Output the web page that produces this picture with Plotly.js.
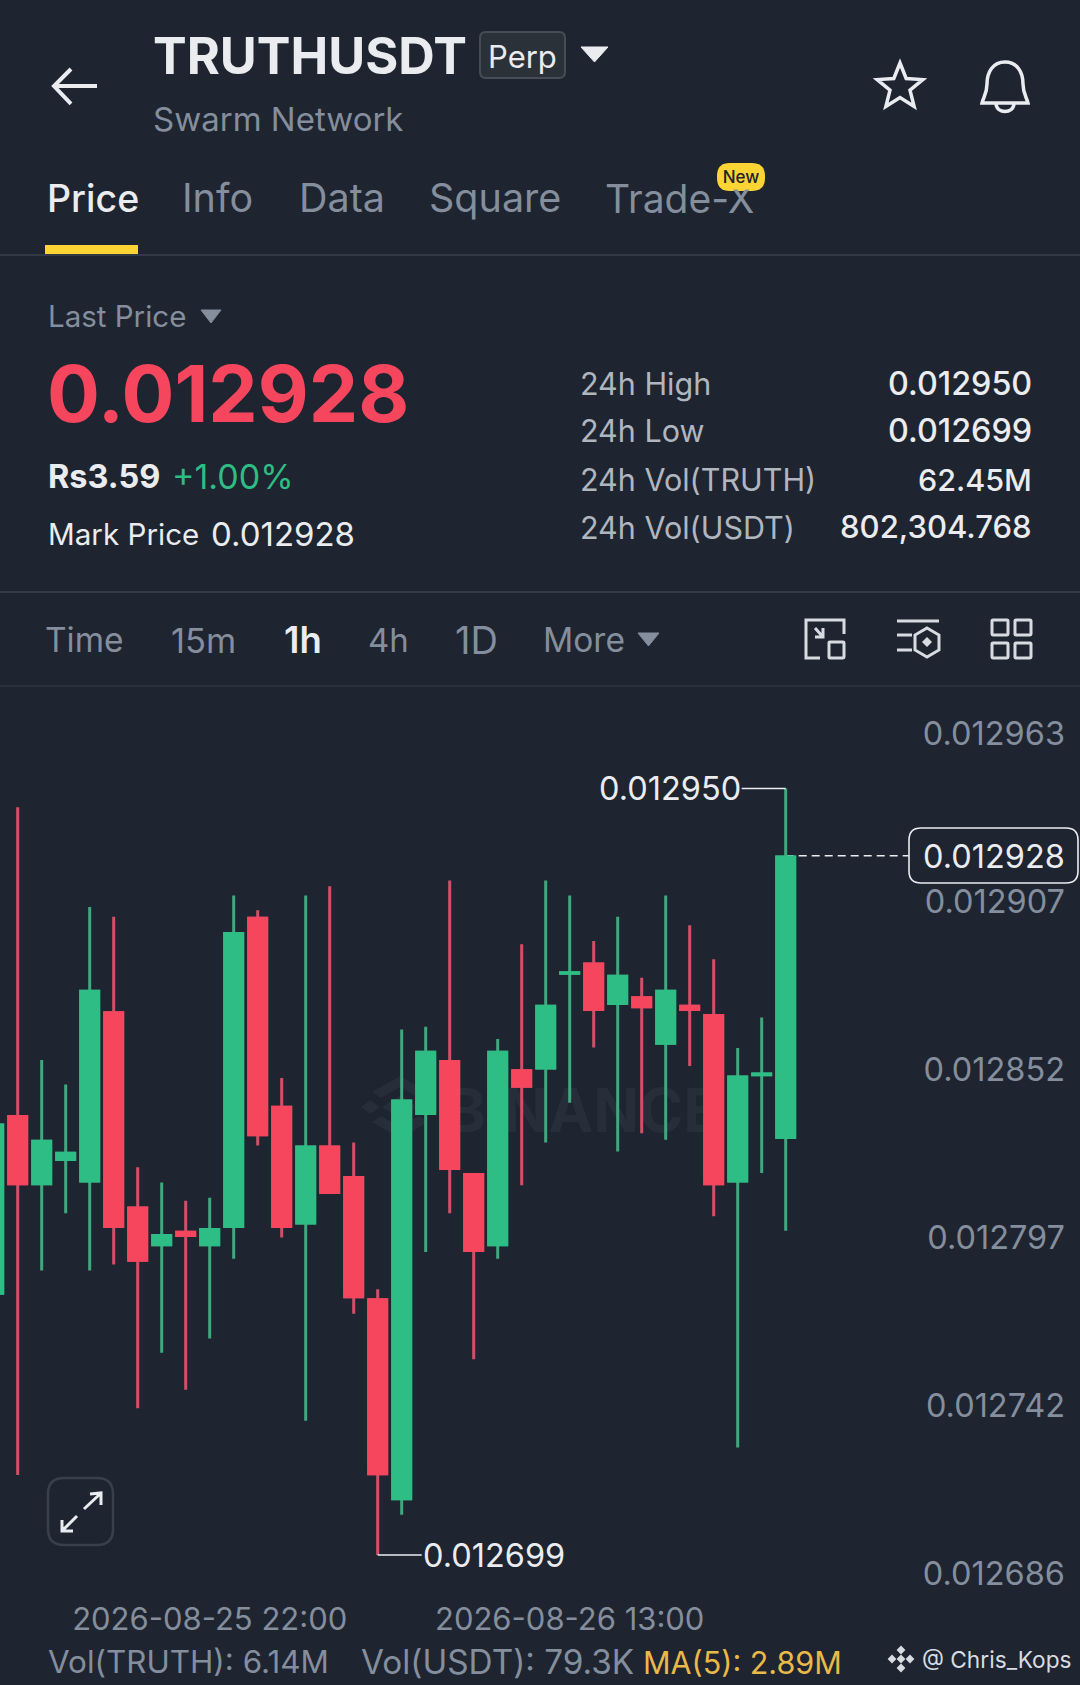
<!DOCTYPE html>
<html>
<head>
<meta charset="utf-8">
<script src="https://cdn.plot.ly/plotly-3.0.1.min.js"></script>
<style>html,body{margin:0;padding:0;background:#1e2430}#c{width:1080px;height:1685px}</style>
</head>
<body>
<div id="c"></div>
<script>
const times = ["2026-08-25 13:00","2026-08-25 14:00","2026-08-25 15:00","2026-08-25 16:00","2026-08-25 17:00","2026-08-25 18:00","2026-08-25 19:00","2026-08-25 20:00","2026-08-25 21:00","2026-08-25 22:00","2026-08-25 23:00","2026-08-26 00:00","2026-08-26 01:00","2026-08-26 02:00","2026-08-26 03:00","2026-08-26 04:00","2026-08-26 05:00","2026-08-26 06:00","2026-08-26 07:00","2026-08-26 08:00","2026-08-26 09:00","2026-08-26 10:00","2026-08-26 11:00","2026-08-26 12:00","2026-08-26 13:00","2026-08-26 14:00","2026-08-26 15:00","2026-08-26 16:00","2026-08-26 17:00","2026-08-26 18:00","2026-08-26 19:00","2026-08-26 20:00","2026-08-26 21:00","2026-08-26 22:00"];
const opens = [0.0127847,0.0128426,0.0128206,0.0128285,0.0128215,0.0128766,0.0128126,0.0128006,0.0128047,0.0128006,0.0128066,0.0129075,0.0128456,0.0128077,0.0128326,0.0128226,0.0127826,0.0127174,0.0128436,0.0128606,0.0128236,0.0128006,0.0128576,0.0128585,0.0128895,0.0128925,0.0128796,0.0128815,0.0128666,0.0128787,0.0128757,0.0128215,0.0128563,0.0128357];
const highs = [0.0128482,0.0129439,0.0128611,0.0128531,0.0129112,0.0129080,0.0128260,0.0128210,0.0128150,0.0128160,0.0129150,0.0129101,0.0128552,0.0129150,0.0129180,0.0128341,0.0127860,0.0128711,0.0128720,0.0129199,0.0128236,0.0128680,0.0128990,0.0129199,0.0129150,0.0129001,0.0129080,0.0128880,0.0129150,0.0129052,0.0128941,0.0128650,0.0128750,0.0129500];
const lows = [0.0127768,0.0127252,0.0127922,0.0128109,0.0127922,0.0127941,0.0127471,0.0127652,0.0127531,0.0127699,0.0127960,0.0128331,0.0128030,0.0127430,0.0128177,0.0127780,0.0126990,0.0127122,0.0127982,0.0128109,0.0127631,0.0127960,0.0128201,0.0128341,0.0128471,0.0128652,0.0128311,0.0128371,0.0128350,0.0128591,0.0128099,0.0127342,0.0128241,0.0128052];
const closes = [0.0128398,0.0128206,0.0128345,0.0128306,0.0128836,0.0128066,0.0127955,0.0128036,0.0128036,0.0128056,0.0129025,0.0128366,0.0128066,0.0128326,0.0128177,0.0127836,0.0127256,0.0128477,0.0128636,0.0128256,0.0127987,0.0128636,0.0128525,0.0128787,0.0128897,0.0128776,0.0128885,0.0128785,0.0128836,0.0128776,0.0128206,0.0128555,0.0128565,0.0129276];
const priceTickVals = [0.0129626,0.0129076,0.0128526,0.0127976,0.0127426,0.0126876];
const priceTickText = ["0.012963","0.012907","0.012852","0.012797","0.012742","0.012686"];
const dateTickVals = ["2026-08-25 22:00","2026-08-26 13:00"];
const dateTickText = ["2026-08-25 22:00","2026-08-26 13:00"];
const high24 = 0.012950, low24 = 0.012699, lastPrice = 0.012928;

const W = 1080, H = 1685;
const FONT = "Inter, 'Noto Sans', sans-serif";
const BG = "#1e2430", GREEN = "#2ebd85", RED = "#f6465d", GW = "#3fa880", RW = "#d0506a";
const WHITE = "#eaecef", GRAY = "#848e9c", LGRAY = "#b0b6bf";

const fx = x => x / W, fy = y => 1 - y / H;
function P(s) {
  let i = 0;
  return s.replace(/-?\d+(\.\d+)?/g, m => (i++ % 2 === 0 ? fx(+m) : fy(+m)).toFixed(5));
}
const shapes = [];
function path(d, stroke, width, fill, layer) {
  shapes.push({type:"path", xref:"paper", yref:"paper", path:P(d), layer:layer||"above",
    line:{color:stroke||"rgba(0,0,0,0)", width:width||0}, fillcolor:fill||"rgba(0,0,0,0)"});
}
function rr(x0,y0,x1,y1,r){return `M ${x0+r} ${y0} L ${x1-r} ${y0} Q ${x1} ${y0} ${x1} ${y0+r} L ${x1} ${y1-r} Q ${x1} ${y1} ${x1-r} ${y1} L ${x0+r} ${y1} Q ${x0} ${y1} ${x0} ${y1-r} L ${x0} ${y0+r} Q ${x0} ${y0} ${x0+r} ${y0} Z`;}
function tri(x0,x1,y0,y1,col){path(`M ${x0} ${y0} L ${x1} ${y0} L ${(x0+x1)/2} ${y1} Z`,col,1,col);}
function dia(cx,cy,r,col,layer){path(`M ${cx} ${cy-r} L ${cx+r} ${cy} L ${cx} ${cy+r} L ${cx-r} ${cy} Z`,null,0,col,layer);}

const anns = [];
function T(x,y,text,size,color,anchor,weight){
  anns.push({xref:"paper",yref:"paper",x:fx(x),y:fy(y),text:text,showarrow:false,xanchor:anchor||"left",yanchor:"middle",
    xshift:0,yshift:0,borderpad:0,font:{family:FONT,size:size,color:color,weight:weight||400}});
}

// Header
T(152,56,"TRUTHUSDT",50.5,WHITE,"left",700);
path(rr(480,32,565,78,6),"#474d57",2,"#2b3139");
T(522,57,"Perp",31,WHITE,"center",400);
tri(581,608,47,62,WHITE);
T(152,119,"Swarm Network",33,GRAY);
path("M 97 86 L 54 86 M 71 69 L 54 86 L 71 104",WHITE,4);
(function(){let d="",cx=900,cy=87;for(let i=0;i<10;i++){let r=i%2?10.5:24,a=-Math.PI/2+i*Math.PI/5;d+=(i?"L ":"M ")+(cx+r*Math.cos(a)).toFixed(1)+" "+(cy+r*Math.sin(a)).toFixed(1)+" ";}path(d+"Z",WHITE,3.5);})();
path("M 1005 62 C 993 62 987 72 987 84 C 987 94 983 98 982 103 L 1028 103 C 1027 98 1023 94 1023 84 C 1023 72 1017 62 1005 62 Z M 996 104 C 997 114 1013 114 1014 104",WHITE,3.5);

// Tabs
T(46,198,"Price",37.5,WHITE,"left",500);
T(181,198,"Info",39.5,GRAY);
T(298,198,"Data",39.5,GRAY);
T(428,198,"Square",39.5,GRAY);
T(604,198,"Trade-X",39,GRAY);
path(rr(717,163,765,191,13),null,0,"#fcd535");
anns.push({xref:"paper",yref:"paper",x:fx(741),y:fy(177),text:"New",showarrow:false,xanchor:"center",yanchor:"middle",width:36,height:24,borderpad:0,
  bgcolor:"#fcd535",font:{family:FONT,size:17,color:"#1e2329",weight:500}});
path(rr(45,245,138,254,0),null,0,"#fcd535");
path("M 0 255 L 1080 255","#333a45",2);

// Price block
T(47,316,"Last Price",29.5,GRAY);
tri(201,221,310,323,GRAY);
T(46,394,"0.012928",78.5,RED,"left",700);
T(47,476,"Rs3.59",32.5,WHITE,"left",700);
T(171,476,"+1.00%",34,GREEN);
T(47,534,"Mark Price",29.6,WHITE);
T(210,534,"0.012928",33,WHITE);
const statLabels = ["24h High","24h Low","24h Vol(TRUTH)","24h Vol(USDT)"];
const statValues = ["0.012950","0.012699","62.45M","802,304.768"];
const statY = [384,431,479,527];
const statSizes = [32.3,32.3,30.5,31.1];
statLabels.forEach((s,i)=>{T(579,statY[i],s,30.5,LGRAY);T(1033,statY[i],statValues[i],statSizes[i],WHITE,"right",500);});
path("M 0 592 L 1080 592","#333a45",2);

// Toolbar
T(44,640,"Time",33.5,GRAY);
T(170,640,"15m",34.5,GRAY);
T(283,640,"1h",36.5,WHITE,"left",600);
T(367,640,"4h",33,GRAY);
T(454,640,"1D",38,GRAY);
T(542,640,"More",33.5,GRAY);
tri(638,659,633,646,GRAY);
const IC="#d8dce1";
path("M 844 634 L 844 620 L 806 620 L 806 658 L 820 658",IC,3);
path(rr(829,642,844,658,1),IC,3);
path("M 815 628 L 823 637 M 823 628 L 823 637 L 815 637",IC,3);
path("M 897 621 L 939 621 M 897 635 L 912 635 M 897 650 L 912 650",IC,3);
path("M 927 628 L 939 635 L 939 650 L 927 657 L 915 650 L 915 635 Z",IC,3);
dia(927,642,5,IC);
[[992,620],[1015,620],[992,643],[1015,643]].forEach(p=>path(rr(p[0],p[1],p[0]+16,p[1]+15,1),IC,3));
path("M 0 686 L 1080 686","#2b313b",2);

// Watermark (under the candles)
path("M 400 1076 L 428 1092 L 419 1098 L 400 1087 L 381 1098 L 372 1092 Z",null,0,"#272e39","below");
path("M 370 1100 L 380 1107 L 370 1114 L 361 1107 Z",null,0,"#272e39","below");
path("M 400 1096 L 418 1107 L 400 1118 L 382 1107 Z",null,0,"#272e39","below");
path("M 400 1138 L 428 1122 L 419 1116 L 400 1127 L 381 1116 L 372 1122 Z",null,0,"#272e39","below");
shapes.push({type:"rect",xref:"paper",yref:"paper",x0:fx(450),x1:fx(716),y0:fy(1135),y1:fy(1080),layer:"below",
  line:{width:0},fillcolor:"rgba(0,0,0,0)",label:{text:"BINANCE",textposition:"middle center",font:{family:FONT,size:60,color:"#272e39",weight:700}}});

// Expand button
path(rr(48,1478,113,1545,16),"#3a404b",2.5);
path("M 84 1509 L 100 1494 M 90 1494 L 101 1493 L 101 1505 M 77 1516 L 62 1531 M 62 1520 L 62 1531 L 73 1531",WHITE,3);

// Last-price marker: dashed guide from the last candle to the boxed label
shapes.push({type:"line",xref:"x",yref:"y",x0:times[33],x1:"2026-08-27 03:08",y0:lastPrice,y1:lastPrice,layer:"below",
  line:{color:WHITE,width:1.4,dash:"8px,5px"}});
path(rr(909,828,1078,883,12),WHITE,1.6,BG);
T(1066,856,"0.012928",32.5,WHITE,"right");

// High / low markers
function marker(x,y,ax,txt,xanchor){
  anns.push({xref:"x",yref:"y",x:x,y:y,ax:ax,ay:0,showarrow:true,arrowhead:0,arrowwidth:1.5,arrowcolor:WHITE,standoff:0,startstandoff:0,
    text:txt,xanchor:xanchor,yanchor:"middle",borderpad:0,font:{family:FONT,size:32.5,color:WHITE}});
}
marker(times[33],high24,-44,"0.012950","right");
marker(times[16],low24,44,"0.012699","left");

// Bottom stats
T(47,1662,"Vol(TRUTH): 6.14M",31.4,GRAY);
T(360,1662,"Vol(USDT): 79.3K",33.3,GRAY);
T(642,1662,"MA(5): 2.89M",30.5,"#e9b949");
[[901,1650],[901,1668],[892,1659],[910,1659],[901,1659]].forEach(p=>dia(p[0],p[1],4.4,"#d8dce1"));
T(921,1659,"@ Chris_Kops",22.7,"#d8dce1");

const traces = [
  {type:"candlestick",x:times,open:opens,high:highs,low:lows,close:closes,hoverinfo:"skip",showlegend:false,
    increasing:{line:{color:GW,width:3},fillcolor:GREEN},decreasing:{line:{color:RW,width:3},fillcolor:RED}},
  {type:"candlestick",x:times,open:opens,close:closes,
    high:opens.map((o,i)=>Math.max(o,closes[i])),low:opens.map((o,i)=>Math.min(o,closes[i])),hoverinfo:"skip",showlegend:false,
    increasing:{line:{color:GREEN,width:3},fillcolor:GREEN},decreasing:{line:{color:RED,width:3},fillcolor:RED}}
];

const layout = {
  width:W,height:H,margin:{l:0,r:0,t:0,b:0},autosize:false,showlegend:false,
  paper_bgcolor:BG,plot_bgcolor:"rgba(0,0,0,0)",boxgap:0.25,boxgroupgap:0,boxmode:"overlay",
  font:{family:FONT},
  xaxis:{type:"date",domain:[0,1],range:["2026-08-25 13:15:45","2026-08-27 10:15:45"],rangeslider:{visible:false},
    showgrid:false,zeroline:false,showline:false,ticks:"",tickmode:"array",tickvals:dateTickVals,ticktext:dateTickText,
    ticklabelstandoff:-2,tickfont:{family:FONT,size:31,color:GRAY},fixedrange:true},
  yaxis:{type:"linear",domain:[1-1600/H,1-686/H],range:[0.01268427,0.01298357],side:"right",
    showgrid:false,zeroline:false,showline:false,ticks:"",tickmode:"array",tickvals:priceTickVals,ticktext:priceTickText,
    ticklabelposition:"inside",ticklabelstandoff:12,ticklabelshift:-16,
    tickfont:{family:FONT,size:32.5,color:GRAY},fixedrange:true},
  shapes:shapes,annotations:anns
};
Plotly.newPlot("c",traces,layout,{displayModeBar:false,staticPlot:true});
</script>
</body>
</html>
